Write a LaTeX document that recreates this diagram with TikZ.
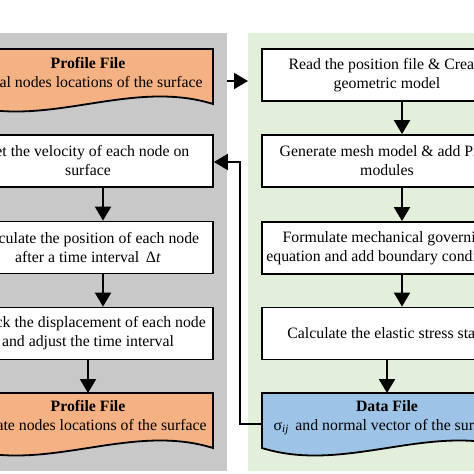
\documentclass[tikz,border=0pt]{standalone}
\usepackage{fontspec}
\setmainfont{Liberation Serif}
\usetikzlibrary{arrows.meta,calc}
\definecolor{graybg}{HTML}{C8C8C8}
\definecolor{greenbg}{HTML}{E2EFDA}
\definecolor{orangefill}{HTML}{F4B183}
\definecolor{bluefill}{HTML}{9DC3E6}
\newcommand{\docshape}[2]{%
  \draw[line width=1.8pt, fill=#2] (#1.north west) -- (#1.north east) -- (#1.south east)
    .. controls ([yshift=26pt]$(#1.south west)!0.667!(#1.south east)$)
    and ([yshift=-26pt]$(#1.south west)!0.333!(#1.south east)$) .. (#1.south west) -- cycle;}
\begin{document}
\begin{tikzpicture}[x=1pt,y=-1pt,
  panelbox/.style={inner sep=0pt, outer sep=0pt, draw=none},
  stepbox/.style={draw, line width=1.8pt, fill=white, minimum width=250pt, minimum height=52pt,
    inner sep=0pt, align=center, font=\fontsize{15.8}{19}\selectfont},
  docbox/.style={inner sep=0pt, outer sep=0pt, minimum width=250pt, minimum height=55pt},
  doctext/.style={align=center, inner sep=0pt, font=\fontsize{15.8}{19}\selectfont},
  arr/.style={line width=2pt, -{Triangle[width=16pt,length=14pt]}}]
\useasboundingbox (0,0) rectangle (474,474);
\clip (0,0) rectangle (474,474);
\fill[white] (0,0) rectangle (474,474);
% panels
\node[panelbox, fill=graybg, minimum width=247pt, minimum height=438pt] (grayp) at (103.5,252) {};
\node[panelbox, fill=greenbg, minimum width=252pt, minimum height=438pt] (greenp) at (374,252) {};
% left column
\node[docbox] (p1) at (88,76.5) {};
\docshape{p1}{orangefill}
\node[doctext] (p1t) at ([yshift=4pt]p1.center) {\textbf{Profile File}\\Initial nodes locations of the surface};
\node[stepbox] (b2) at (88,161) {Set the velocity of each node on\\surface};
\node[stepbox] (b3) at (88,247.5) {Calculate the position of each node\\after a time interval \,Δ\textit{t}};
\node[stepbox] (b4) at (88,333.5) {Check the displacement of each node\\and adjust the time interval};
\node[docbox] (p2) at (88,420.5) {};
\docshape{p2}{orangefill}
\node[doctext] (p2t) at ([yshift=3pt]p2.center) {\textbf{Profile File}\\Update nodes locations of the surface};
% right column
\node[stepbox] (r1) at (387,75) {Read the position file \& Create\\geometric model};
\node[stepbox] (r2) at (387,161) {Generate mesh model \& add PDE\\modules};
\node[stepbox] (r3) at (387,248) {Formulate mechanical governing\\equation and add boundary conditions};
\node[stepbox] (r4) at (387,333.5) {Calculate the elastic stress state};
\node[docbox] (d) at (387,420.5) {};
\docshape{d}{bluefill}
\node[doctext] (dt) at ([yshift=3pt]d.center) {\textbf{Data File}\\σ\textsubscript{\textit{ij}} \,and normal vector of the surface};
% connectors
\coordinate (ya) at (0,81);
\coordinate (fb) at (240,162);
\draw[arr] (grayp.east |- ya) -- (greenp.west |- ya);
\draw[arr] ([xshift=15pt]b2.south) -- ([xshift=15pt]b3.north);
\draw[arr] ([xshift=15pt]b3.south) -- ([xshift=15pt]b4.north);
\draw[arr] (b4.south) -- (p2.north);
\draw[arr] ([xshift=15pt]r1.south) -- ([xshift=15pt]r2.north);
\draw[arr] ([xshift=15pt]r2.south) -- ([xshift=15pt]r3.north);
\draw[arr] ([xshift=15pt]r3.south) -- ([xshift=15pt]r4.north);
\draw[arr] (r4.south) -- (d.north);
\draw[arr] ([yshift=-3pt]d.west) -| (fb) -- (b2.east |- fb);
\end{tikzpicture}
\end{document}
